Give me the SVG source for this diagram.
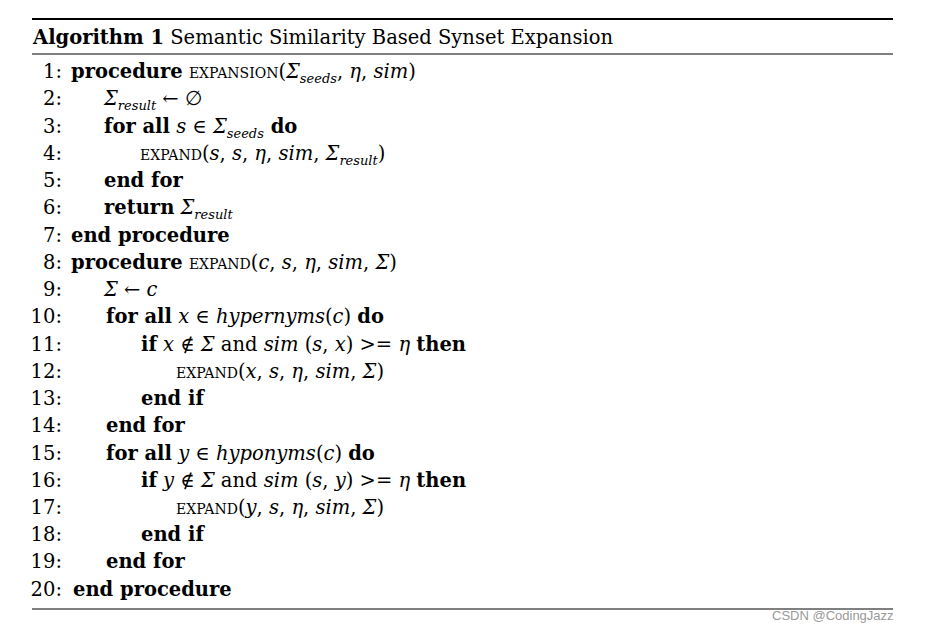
<svg xmlns="http://www.w3.org/2000/svg" width="925" height="633" viewBox="0 0 925 633">
<style>
text{font-family:"DejaVu Serif","Liberation Serif",serif;font-size:19.5px;fill:#000}
.n{text-anchor:end}
.b{font-weight:bold}
.i{font-style:italic}
.sc{font-size:14px}
.s{font-size:13px;font-style:italic}
.wm{font-family:"Liberation Sans",sans-serif;font-size:13px;fill:#999}
</style>
<rect width="925" height="633" fill="#fff"/>
<line x1="32" y1="19" x2="893" y2="19" stroke="#000" stroke-width="2"/>
<line x1="32" y1="54" x2="893" y2="54" stroke="#000" stroke-width="1"/>
<line x1="32" y1="609" x2="893" y2="609" stroke="#000" stroke-width="1"/>
<text x="33" y="44"><tspan class="b">Algorithm 1</tspan> Semantic Similarity Based Synset Expansion</text>
<g>
<text class="n" x="62" y="78">1:</text>
<text x="71" y="78"><tspan class="b">procedure</tspan> <tspan class="sc">EXPANSION</tspan>(<tspan class="i">Σ</tspan><tspan class="s" dy="5">seeds</tspan><tspan dy="-5">, </tspan><tspan class="i">η</tspan>, <tspan class="i">sim</tspan>)</text>
<text class="n" x="62" y="105">2:</text>
<text x="104" y="105"><tspan class="i">Σ</tspan><tspan class="s" dy="5">result</tspan><tspan dy="-5"> ← ∅</tspan></text>
<text class="n" x="62" y="133">3:</text>
<text x="104" y="133"><tspan class="b">for all</tspan> <tspan class="i">s</tspan> ∈ <tspan class="i">Σ</tspan><tspan class="s" dy="5">seeds</tspan><tspan dy="-5" class="b"> do</tspan></text>
<text class="n" x="62" y="160">4:</text>
<text x="140" y="160"><tspan class="sc">EXPAND</tspan>(<tspan class="i">s</tspan>, <tspan class="i">s</tspan>, <tspan class="i">η</tspan>, <tspan class="i">sim</tspan>, <tspan class="i">Σ</tspan><tspan class="s" dy="5">result</tspan><tspan dy="-5">)</tspan></text>
<text class="n" x="62" y="187">5:</text>
<text x="104" y="187" class="b">end for</text>
<text class="n" x="62" y="214">6:</text>
<text x="104" y="214"><tspan class="b">return</tspan> <tspan class="i">Σ</tspan><tspan class="s" dy="5">result</tspan></text>
<text class="n" x="62" y="242">7:</text>
<text x="71" y="242" class="b">end procedure</text>
<text class="n" x="62" y="269">8:</text>
<text x="71" y="269"><tspan class="b">procedure</tspan> <tspan class="sc">EXPAND</tspan>(<tspan class="i">c</tspan>, <tspan class="i">s</tspan>, <tspan class="i">η</tspan>, <tspan class="i">sim</tspan>, <tspan class="i">Σ</tspan>)</text>
<text class="n" x="62" y="296">9:</text>
<text x="104" y="296"><tspan class="i">Σ</tspan> ← <tspan class="i">c</tspan></text>
<text class="n" x="62" y="323">10:</text>
<text x="106" y="323"><tspan class="b">for all</tspan> <tspan class="i">x</tspan> ∈ <tspan class="i">hypernyms</tspan>(<tspan class="i">c</tspan>) <tspan class="b">do</tspan></text>
<text class="n" x="62" y="351">11:</text>
<text x="141" y="351"><tspan class="b">if</tspan> <tspan class="i">x</tspan> ∉ <tspan class="i">Σ</tspan> and <tspan class="i">sim</tspan> (<tspan class="i">s</tspan>, <tspan class="i">x</tspan>) &gt;= <tspan class="i">η</tspan> <tspan class="b">then</tspan></text>
<text class="n" x="62" y="378">12:</text>
<text x="176" y="378"><tspan class="sc">EXPAND</tspan>(<tspan class="i">x</tspan>, <tspan class="i">s</tspan>, <tspan class="i">η</tspan>, <tspan class="i">sim</tspan>, <tspan class="i">Σ</tspan>)</text>
<text class="n" x="62" y="405">13:</text>
<text x="141" y="405" class="b">end if</text>
<text class="n" x="62" y="432">14:</text>
<text x="106" y="432" class="b">end for</text>
<text class="n" x="62" y="460">15:</text>
<text x="106" y="460"><tspan class="b">for all</tspan> <tspan class="i">y</tspan> ∈ <tspan class="i">hyponyms</tspan>(<tspan class="i">c</tspan>) <tspan class="b">do</tspan></text>
<text class="n" x="62" y="487">16:</text>
<text x="141" y="487"><tspan class="b">if</tspan> <tspan class="i">y</tspan> ∉ <tspan class="i">Σ</tspan> and <tspan class="i">sim</tspan> (<tspan class="i">s</tspan>, <tspan class="i">y</tspan>) &gt;= <tspan class="i">η</tspan> <tspan class="b">then</tspan></text>
<text class="n" x="62" y="514">17:</text>
<text x="176" y="514"><tspan class="sc">EXPAND</tspan>(<tspan class="i">y</tspan>, <tspan class="i">s</tspan>, <tspan class="i">η</tspan>, <tspan class="i">sim</tspan>, <tspan class="i">Σ</tspan>)</text>
<text class="n" x="62" y="541">18:</text>
<text x="141" y="541" class="b">end if</text>
<text class="n" x="62" y="568">19:</text>
<text x="106" y="568" class="b">end for</text>
<text class="n" x="62" y="596">20:</text>
<text x="73" y="596" class="b">end procedure</text>
</g>
<text class="wm" x="772" y="620">CSDN @CodingJazz</text>
</svg>
